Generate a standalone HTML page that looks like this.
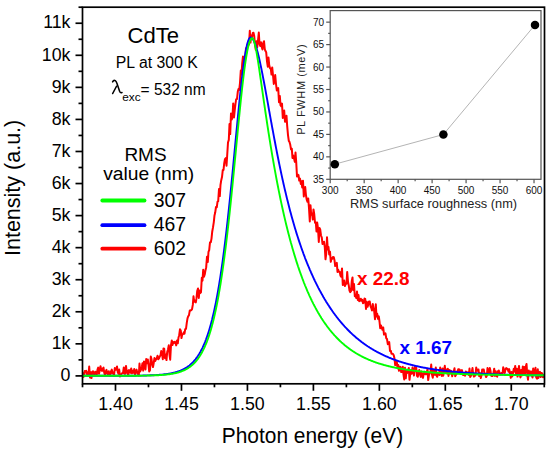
<!DOCTYPE html>
<html><head><meta charset="utf-8">
<style>
html,body{margin:0;padding:0;background:#fff;}
svg{display:block;}
text{font-family:"Liberation Sans", sans-serif;}
</style></head>
<body>
<svg width="550" height="453" viewBox="0 0 550 453">
<rect x="0" y="0" width="550" height="453" fill="#fff"/>
<defs><clipPath id="pc"><rect x="82.5" y="7.2" width="462.0" height="376.6"/></clipPath></defs>
<g clip-path="url(#pc)" fill="none" stroke-linejoin="round" stroke-linecap="round">
<path d="M82.5,372.6 L83.2,376.9 L84.0,376.4 L84.8,370.9 L85.5,371.5 L86.2,370.8 L87.0,374.3 L87.8,372.3 L88.5,374.9 L89.2,366.6 L90.0,377.5 L90.8,372.2 L91.5,378.1 L92.2,372.0 L93.0,371.2 L93.8,373.9 L94.5,375.1 L95.2,371.8 L96.0,371.9 L96.8,374.6 L97.5,369.6 L98.2,367.6 L99.0,373.7 L99.8,370.2 L100.5,366.2 L101.2,369.8 L102.0,370.9 L102.8,368.5 L103.5,367.6 L104.2,372.4 L105.0,375.2 L105.8,371.5 L106.5,369.9 L107.2,373.5 L108.0,374.5 L108.8,371.3 L109.5,374.0 L110.2,375.5 L111.0,371.5 L111.8,369.6 L112.5,373.3 L113.2,372.9 L114.0,375.6 L114.8,368.0 L115.5,369.9 L116.2,369.4 L117.0,366.5 L117.8,372.4 L118.5,373.7 L119.2,369.6 L120.0,376.4 L120.8,374.5 L121.5,373.9 L122.2,373.1 L123.0,373.1 L123.8,367.4 L124.5,373.7 L125.2,373.7 L126.0,365.9 L126.8,372.8 L127.5,370.8 L128.2,375.5 L129.0,370.1 L129.8,371.5 L130.5,372.6 L131.2,368.5 L132.0,373.3 L132.8,370.8 L133.5,372.7 L134.2,369.1 L135.0,374.3 L135.8,372.5 L136.5,369.6 L137.2,372.1 L138.0,374.0 L138.8,375.4 L139.5,363.6 L140.2,371.4 L141.0,369.5 L141.8,367.0 L142.5,363.3 L143.2,370.6 L144.0,361.4 L144.8,367.3 L145.5,369.5 L146.2,359.1 L147.0,363.3 L147.8,359.4 L148.5,364.6 L149.2,371.5 L150.0,370.2 L150.8,356.5 L151.5,359.1 L152.2,364.4 L153.0,367.1 L153.8,362.5 L154.5,357.9 L155.2,361.1 L156.0,359.4 L156.8,358.2 L157.5,355.8 L158.2,359.3 L159.0,358.4 L159.8,356.4 L160.5,355.5 L161.2,351.1 L162.0,353.5 L162.8,359.2 L163.5,348.4 L164.2,348.6 L165.0,358.2 L165.8,354.8 L166.5,360.1 L167.2,352.0 L168.0,349.5 L168.8,345.2 L169.5,354.8 L170.2,359.7 L171.0,345.2 L171.8,340.4 L172.5,344.9 L173.2,342.0 L174.0,343.0 L174.8,341.7 L175.5,342.8 L176.2,345.4 L177.0,340.6 L177.8,343.3 L178.5,337.5 L179.2,335.2 L180.0,329.2 L180.8,330.7 L181.5,338.1 L182.2,334.6 L183.0,334.2 L183.8,332.4 L184.5,333.7 L185.2,329.2 L186.0,328.9 L186.8,322.7 L187.5,318.4 L188.2,316.3 L189.0,315.2 L189.8,310.4 L190.5,310.6 L191.2,310.2 L192.0,309.4 L192.8,304.9 L193.5,296.3 L194.2,301.8 L195.0,300.9 L195.8,302.4 L196.5,298.2 L197.2,291.0 L198.0,288.5 L198.8,297.9 L199.5,290.5 L200.2,293.0 L201.0,292.2 L201.8,277.7 L202.5,280.7 L203.2,269.7 L204.0,276.8 L204.8,274.2 L205.5,270.2 L206.2,267.2 L207.0,256.8 L207.8,261.9 L208.5,251.8 L209.2,250.1 L210.0,242.3 L210.8,242.3 L211.5,238.6 L212.2,231.8 L213.0,227.4 L213.8,222.1 L214.5,215.4 L215.2,212.6 L216.0,207.0 L216.8,207.2 L217.5,201.8 L218.2,201.2 L219.0,189.1 L219.8,196.1 L220.5,184.8 L221.2,180.4 L222.0,177.1 L222.8,169.9 L223.5,170.1 L224.2,163.4 L225.0,159.0 L225.8,158.0 L226.5,165.7 L227.2,155.3 L228.0,142.5 L228.8,139.9 L229.5,124.1 L230.2,134.1 L231.0,113.4 L231.8,119.4 L232.5,116.4 L233.2,103.4 L234.0,117.4 L234.8,109.6 L235.5,103.7 L236.2,99.2 L237.0,99.1 L237.8,91.6 L238.5,88.9 L239.2,90.0 L240.0,82.8 L240.8,70.6 L241.5,74.6 L242.2,63.3 L243.0,56.4 L243.8,58.5 L244.5,64.7 L245.2,58.3 L246.0,48.2 L246.8,52.4 L247.5,44.6 L248.2,44.8 L249.0,44.5 L249.8,30.7 L250.5,42.6 L251.2,35.4 L252.0,36.9 L252.8,32.9 L253.5,32.7 L254.2,35.9 L255.0,45.2 L255.8,49.8 L256.5,41.3 L257.2,47.4 L258.0,40.6 L258.8,32.5 L259.5,43.7 L260.2,46.0 L261.0,42.3 L261.8,47.1 L262.5,49.5 L263.2,43.2 L264.0,41.2 L264.8,49.3 L265.5,51.1 L266.2,52.3 L267.0,61.4 L267.8,66.7 L268.5,57.5 L269.2,65.1 L270.0,68.2 L270.8,68.9 L271.5,74.6 L272.2,67.4 L273.0,75.2 L273.8,83.9 L274.5,79.9 L275.2,75.1 L276.0,84.0 L276.8,90.4 L277.5,89.3 L278.2,88.1 L279.0,102.3 L279.8,95.9 L280.5,105.2 L281.2,106.3 L282.0,103.6 L282.8,118.0 L283.5,115.9 L284.2,110.6 L285.0,121.8 L285.8,119.5 L286.5,115.8 L287.2,126.1 L288.0,135.1 L288.8,140.9 L289.5,141.9 L290.2,144.4 L291.0,149.3 L291.8,148.7 L292.5,158.0 L293.2,155.4 L294.0,158.4 L294.8,161.9 L295.5,152.5 L296.2,161.9 L297.0,176.5 L297.8,174.7 L298.5,175.1 L299.2,180.5 L300.0,178.6 L300.8,183.9 L301.5,181.2 L302.2,187.4 L303.0,180.7 L303.8,196.4 L304.5,189.8 L305.2,187.0 L306.0,195.5 L306.8,200.0 L307.5,201.8 L308.2,198.4 L309.0,208.1 L309.8,221.4 L310.5,205.3 L311.2,214.7 L312.0,213.4 L312.8,219.5 L313.5,209.4 L314.2,213.8 L315.0,222.7 L315.8,222.2 L316.5,231.5 L317.2,222.6 L318.0,228.4 L318.8,241.9 L319.5,228.0 L320.2,229.5 L321.0,235.5 L321.8,237.7 L322.5,244.0 L323.2,243.4 L324.0,241.7 L324.8,247.4 L325.5,259.3 L326.2,254.1 L327.0,237.2 L327.8,249.4 L328.5,247.0 L329.2,254.5 L330.0,251.8 L330.8,261.8 L331.5,258.2 L332.2,258.9 L333.0,256.9 L333.8,257.1 L334.5,260.2 L335.2,266.1 L336.0,264.7 L336.8,262.9 L337.5,272.0 L338.2,269.8 L339.0,271.8 L339.8,272.0 L340.5,275.7 L341.2,276.8 L342.0,268.4 L342.8,285.0 L343.5,283.4 L344.2,280.4 L345.0,286.0 L345.8,283.7 L346.5,283.7 L347.2,271.9 L348.0,281.8 L348.8,285.6 L349.5,290.6 L350.2,292.2 L351.0,291.1 L351.8,280.9 L352.5,277.4 L353.2,290.1 L354.0,284.0 L354.8,296.3 L355.5,294.9 L356.2,298.1 L357.0,291.5 L357.8,300.0 L358.5,295.1 L359.2,301.2 L360.0,300.8 L360.8,298.7 L361.5,300.7 L362.2,299.7 L363.0,303.2 L363.8,302.6 L364.5,298.6 L365.2,298.9 L366.0,308.9 L366.8,301.8 L367.5,306.8 L368.2,304.9 L369.0,301.6 L369.8,301.6 L370.5,306.2 L371.2,307.8 L372.0,310.5 L372.8,304.1 L373.5,308.1 L374.2,311.3 L375.0,319.2 L375.8,304.2 L376.5,316.5 L377.2,313.7 L378.0,318.8 L378.8,316.4 L379.5,321.5 L380.2,328.2 L381.0,325.5 L381.8,327.9 L382.5,329.8 L383.2,327.4 L384.0,334.6 L384.8,333.8 L385.5,333.4 L386.2,338.2 L387.0,339.0 L387.8,344.2 L388.5,342.5 L389.2,342.0 L390.0,350.9 L390.8,350.8 L391.5,353.8 L392.2,353.8 L393.0,353.9 L393.8,355.5 L394.5,358.5 L395.2,365.1 L396.0,364.6 L396.8,361.3 L397.5,368.2 L398.2,364.9 L399.0,370.8 L399.8,366.8 L400.5,367.0 L401.2,372.0 L402.0,371.7 L402.8,366.8 L403.5,374.7 L404.2,379.4 L405.0,367.8 L405.8,378.3 L406.5,370.3 L407.2,373.0 L408.0,371.9 L408.8,367.9 L409.5,379.8 L410.2,374.1 L411.0,370.1 L411.8,373.7 L412.5,367.6 L413.2,370.9 L414.0,375.5 L414.8,367.0 L415.5,371.1 L416.2,367.5 L417.0,375.9 L417.8,376.8 L418.5,373.5 L419.2,370.1 L420.0,373.9 L420.8,376.9 L421.5,371.5 L422.2,376.0 L423.0,377.9 L423.8,373.4 L424.5,371.9 L425.2,374.3 L426.0,374.3 L426.8,372.4 L427.5,369.1 L428.2,380.1 L429.0,374.8 L429.8,373.0 L430.5,371.9 L431.2,364.5 L432.0,374.8 L432.8,377.7 L433.5,370.2 L434.2,374.7 L435.0,374.8 L435.8,367.5 L436.5,375.5 L437.2,376.8 L438.0,373.2 L438.8,372.3 L439.5,375.0 L440.2,367.6 L441.0,372.6 L441.8,375.9 L442.5,368.5 L443.2,375.7 L444.0,371.2 L444.8,365.8 L445.5,372.2 L446.2,369.4 L447.0,373.5 L447.8,368.7 L448.5,375.9 L449.2,370.1 L450.0,373.6 L450.8,370.6 L451.5,371.5 L452.2,376.3 L453.0,373.2 L453.8,371.2 L454.5,368.3 L455.2,376.2 L456.0,374.8 L456.8,371.4 L457.5,373.3 L458.2,369.2 L459.0,369.2 L459.8,369.8 L460.5,373.6 L461.2,373.4 L462.0,370.1 L462.8,374.8 L463.5,375.0 L464.2,373.0 L465.0,375.8 L465.8,371.6 L466.5,372.1 L467.2,374.0 L468.0,372.4 L468.8,375.0 L469.5,368.5 L470.2,377.0 L471.0,375.7 L471.8,372.0 L472.5,368.1 L473.2,374.4 L474.0,376.6 L474.8,375.9 L475.5,375.1 L476.2,367.5 L477.0,370.0 L477.8,371.0 L478.5,369.5 L479.2,376.1 L480.0,373.1 L480.8,378.1 L481.5,375.3 L482.2,369.4 L483.0,369.6 L483.8,369.6 L484.5,374.1 L485.2,373.6 L486.0,377.1 L486.8,375.9 L487.5,368.1 L488.2,370.7 L489.0,372.9 L489.8,368.1 L490.5,370.8 L491.2,375.7 L492.0,376.0 L492.8,375.9 L493.5,372.6 L494.2,368.7 L495.0,375.9 L495.8,371.3 L496.5,375.8 L497.2,376.7 L498.0,371.3 L498.8,370.5 L499.5,372.4 L500.2,374.4 L501.0,374.0 L501.8,372.9 L502.5,374.2 L503.2,367.3 L504.0,369.7 L504.8,372.9 L505.5,369.5 L506.2,368.1 L507.0,368.6 L507.8,369.5 L508.5,371.8 L509.2,369.1 L510.0,373.2 L510.8,377.8 L511.5,371.9 L512.2,376.5 L513.0,373.3 L513.8,368.8 L514.5,371.6 L515.2,365.9 L516.0,374.9 L516.8,368.7 L517.5,376.6 L518.2,374.2 L519.0,365.9 L519.8,374.9 L520.5,377.4 L521.2,369.9 L522.0,375.5 L522.8,366.6 L523.5,373.2 L524.2,367.1 L525.0,373.9 L525.8,366.6 L526.5,363.9 L527.2,373.6 L528.0,379.7 L528.8,370.5 L529.5,375.0 L530.2,372.7 L531.0,371.3 L531.8,374.3 L532.5,377.6 L533.2,368.4 L534.0,374.1 L534.8,373.4 L535.5,367.8 L536.2,377.5 L537.0,378.6 L537.8,369.3 L538.5,377.9 L539.2,372.5 L540.0,371.8 L540.8,377.1 L541.5,373.0 L542.2,373.3 L543.0,377.2 L543.8,376.4" stroke="#ff0000" stroke-width="2.0"/>
<path d="M82.5,375.8 L83.0,375.8 L83.5,375.8 L84.0,375.8 L84.5,375.8 L85.0,375.8 L85.5,375.8 L86.0,375.8 L86.5,375.8 L87.0,375.8 L87.5,375.8 L88.0,375.8 L88.5,375.8 L89.0,375.8 L89.5,375.8 L90.0,375.8 L90.5,375.8 L91.0,375.8 L91.5,375.8 L92.0,375.8 L92.5,375.8 L93.0,375.8 L93.5,375.8 L94.0,375.8 L94.5,375.8 L95.0,375.8 L95.5,375.8 L96.0,375.8 L96.5,375.8 L97.0,375.8 L97.5,375.8 L98.0,375.8 L98.5,375.8 L99.0,375.8 L99.5,375.8 L100.0,375.8 L100.5,375.8 L101.0,375.8 L101.5,375.8 L102.0,375.8 L102.5,375.8 L103.0,375.8 L103.5,375.8 L104.0,375.8 L104.5,375.8 L105.0,375.8 L105.5,375.8 L106.0,375.8 L106.5,375.8 L107.0,375.8 L107.5,375.8 L108.0,375.8 L108.5,375.8 L109.0,375.8 L109.5,375.8 L110.0,375.8 L110.5,375.8 L111.0,375.8 L111.5,375.8 L112.0,375.8 L112.5,375.8 L113.0,375.8 L113.5,375.8 L114.0,375.8 L114.5,375.8 L115.0,375.8 L115.5,375.8 L116.0,375.8 L116.5,375.8 L117.0,375.8 L117.5,375.8 L118.0,375.8 L118.5,375.8 L119.0,375.8 L119.5,375.8 L120.0,375.8 L120.5,375.8 L121.0,375.8 L121.5,375.8 L122.0,375.8 L122.5,375.8 L123.0,375.7 L123.5,375.7 L124.0,375.7 L124.5,375.7 L125.0,375.7 L125.5,375.7 L126.0,375.7 L126.5,375.7 L127.0,375.7 L127.5,375.7 L128.0,375.7 L128.5,375.7 L129.0,375.7 L129.5,375.7 L130.0,375.7 L130.5,375.7 L131.0,375.7 L131.5,375.7 L132.0,375.7 L132.5,375.7 L133.0,375.7 L133.5,375.7 L134.0,375.7 L134.5,375.7 L135.0,375.7 L135.5,375.7 L136.0,375.7 L136.5,375.6 L137.0,375.6 L137.5,375.6 L138.0,375.6 L138.5,375.6 L139.0,375.6 L139.5,375.6 L140.0,375.6 L140.5,375.6 L141.0,375.6 L141.5,375.6 L142.0,375.6 L142.5,375.6 L143.0,375.5 L143.5,375.5 L144.0,375.5 L144.5,375.5 L145.0,375.5 L145.5,375.5 L146.0,375.5 L146.5,375.5 L147.0,375.4 L147.5,375.4 L148.0,375.4 L148.5,375.4 L149.0,375.4 L149.5,375.4 L150.0,375.3 L150.5,375.3 L151.0,375.3 L151.5,375.3 L152.0,375.3 L152.5,375.2 L153.0,375.2 L153.5,375.2 L154.0,375.2 L154.5,375.1 L155.0,375.1 L155.5,375.1 L156.0,375.1 L156.5,375.0 L157.0,375.0 L157.5,375.0 L158.0,374.9 L158.5,374.9 L159.0,374.9 L159.5,374.8 L160.0,374.8 L160.5,374.7 L161.0,374.7 L161.5,374.7 L162.0,374.6 L162.5,374.6 L163.0,374.5 L163.5,374.5 L164.0,374.4 L164.5,374.3 L165.0,374.3 L165.5,374.2 L166.0,374.2 L166.5,374.1 L167.0,374.0 L167.5,373.9 L168.0,373.9 L168.5,373.8 L169.0,373.7 L169.5,373.6 L170.0,373.5 L170.5,373.4 L171.0,373.4 L171.5,373.3 L172.0,373.2 L172.5,373.0 L173.0,372.9 L173.5,372.8 L174.0,372.7 L174.5,372.6 L175.0,372.4 L175.5,372.3 L176.0,372.2 L176.5,372.0 L177.0,371.9 L177.5,371.7 L178.0,371.5 L178.5,371.4 L179.0,371.2 L179.5,371.0 L180.0,370.8 L180.5,370.6 L181.0,370.4 L181.5,370.2 L182.0,370.0 L182.5,369.7 L183.0,369.5 L183.5,369.2 L184.0,369.0 L184.5,368.7 L185.0,368.4 L185.5,368.1 L186.0,367.8 L186.5,367.5 L187.0,367.2 L187.5,366.9 L188.0,366.5 L188.5,366.1 L189.0,365.8 L189.5,365.4 L190.0,364.9 L190.5,364.5 L191.0,364.1 L191.5,363.6 L192.0,363.1 L192.5,362.6 L193.0,362.1 L193.5,361.6 L194.0,361.0 L194.5,360.5 L195.0,359.9 L195.5,359.3 L196.0,358.6 L196.5,357.9 L197.0,357.3 L197.5,356.5 L198.0,355.8 L198.5,355.0 L199.0,354.2 L199.5,353.4 L200.0,352.5 L200.5,351.7 L201.0,350.7 L201.5,349.8 L202.0,348.8 L202.5,347.8 L203.0,346.7 L203.5,345.6 L204.0,344.5 L204.5,343.3 L205.0,342.1 L205.5,340.8 L206.0,339.5 L206.5,338.1 L207.0,336.7 L207.5,335.3 L208.0,333.8 L208.5,332.3 L209.0,330.7 L209.5,329.0 L210.0,327.3 L210.5,325.5 L211.0,323.7 L211.5,321.8 L212.0,319.9 L212.5,317.8 L213.0,315.8 L213.5,313.6 L214.0,311.4 L214.5,309.1 L215.0,306.8 L215.5,304.4 L216.0,301.9 L216.5,299.3 L217.0,296.6 L217.5,293.9 L218.0,291.1 L218.5,288.2 L219.0,285.3 L219.5,282.2 L220.0,279.1 L220.5,275.8 L221.0,272.5 L221.5,269.1 L222.0,265.6 L222.5,262.1 L223.0,258.4 L223.5,254.7 L224.0,250.8 L224.5,246.9 L225.0,242.9 L225.5,238.8 L226.0,234.6 L226.5,230.3 L227.0,225.9 L227.5,221.5 L228.0,216.9 L228.5,212.3 L229.0,207.7 L229.5,202.9 L230.0,198.1 L230.5,193.2 L231.0,188.2 L231.5,183.2 L232.0,178.1 L232.5,173.0 L233.0,167.8 L233.5,162.7 L234.0,157.4 L234.5,152.2 L235.0,146.9 L235.5,141.7 L236.0,136.4 L236.5,131.2 L237.0,126.0 L237.5,120.8 L238.0,115.6 L238.5,110.6 L239.0,105.6 L239.5,100.6 L240.0,95.8 L240.5,91.1 L241.0,86.5 L241.5,82.0 L242.0,77.6 L242.5,73.5 L243.0,69.5 L243.5,65.6 L244.0,62.0 L244.5,58.6 L245.0,55.4 L245.5,52.4 L246.0,49.7 L246.5,47.2 L247.0,45.0 L247.5,43.1 L248.0,41.4 L248.5,40.1 L249.0,39.0 L249.5,38.2 L250.0,37.7 L250.5,37.5 L251.0,37.6 L251.5,37.8 L252.0,38.1 L252.5,38.7 L253.0,39.4 L253.5,40.2 L254.0,41.2 L254.5,42.3 L255.0,43.6 L255.5,45.0 L256.0,46.5 L256.5,48.1 L257.0,49.9 L257.5,51.7 L258.0,53.6 L258.5,55.7 L259.0,57.8 L259.5,60.0 L260.0,62.3 L260.5,64.6 L261.0,67.0 L261.5,69.4 L262.0,71.9 L262.5,74.5 L263.0,77.1 L263.5,79.7 L264.0,82.3 L264.5,85.0 L265.0,87.7 L265.5,90.4 L266.0,93.2 L266.5,95.9 L267.0,98.7 L267.5,101.4 L268.0,104.2 L268.5,107.0 L269.0,109.8 L269.5,112.5 L270.0,115.3 L270.5,118.1 L271.0,120.8 L271.5,123.5 L272.0,126.3 L272.5,129.0 L273.0,131.7 L273.5,134.4 L274.0,137.1 L274.5,139.7 L275.0,142.3 L275.5,145.0 L276.0,147.6 L276.5,150.1 L277.0,152.7 L277.5,155.2 L278.0,157.7 L278.5,160.2 L279.0,162.7 L279.5,165.1 L280.0,167.5 L280.5,169.9 L281.0,172.2 L281.5,174.6 L282.0,176.9 L282.5,179.2 L283.0,181.4 L283.5,183.7 L284.0,185.9 L284.5,188.1 L285.0,190.2 L285.5,192.3 L286.0,194.4 L286.5,196.5 L287.0,198.6 L287.5,200.6 L288.0,202.6 L288.5,204.6 L289.0,206.5 L289.5,208.5 L290.0,210.4 L290.5,212.3 L291.0,214.1 L291.5,216.0 L292.0,217.8 L292.5,219.6 L293.0,221.3 L293.5,223.1 L294.0,224.8 L294.5,226.5 L295.0,228.2 L295.5,229.8 L296.0,231.5 L296.5,233.1 L297.0,234.7 L297.5,236.3 L298.0,237.8 L298.5,239.4 L299.0,240.9 L299.5,242.4 L300.0,243.9 L300.5,245.3 L301.0,246.8 L301.5,248.2 L302.0,249.6 L302.5,251.0 L303.0,252.4 L303.5,253.8 L304.0,255.1 L304.5,256.4 L305.0,257.8 L305.5,259.1 L306.0,260.3 L306.5,261.6 L307.0,262.9 L307.5,264.1 L308.0,265.3 L308.5,266.5 L309.0,267.7 L309.5,268.9 L310.0,270.1 L310.5,271.2 L311.0,272.4 L311.5,273.5 L312.0,274.6 L312.5,275.7 L313.0,276.8 L313.5,277.9 L314.0,279.0 L314.5,280.0 L315.0,281.1 L315.5,282.1 L316.0,283.1 L316.5,284.1 L317.0,285.1 L317.5,286.1 L318.0,287.1 L318.5,288.1 L319.0,289.0 L319.5,290.0 L320.0,290.9 L320.5,291.8 L321.0,292.7 L321.5,293.6 L322.0,294.5 L322.5,295.4 L323.0,296.3 L323.5,297.2 L324.0,298.0 L324.5,298.9 L325.0,299.7 L325.5,300.5 L326.0,301.4 L326.5,302.2 L327.0,303.0 L327.5,303.8 L328.0,304.6 L328.5,305.3 L329.0,306.1 L329.5,306.9 L330.0,307.6 L330.5,308.4 L331.0,309.1 L331.5,309.8 L332.0,310.5 L332.5,311.3 L333.0,312.0 L333.5,312.7 L334.0,313.4 L334.5,314.0 L335.0,314.7 L335.5,315.4 L336.0,316.0 L336.5,316.7 L337.0,317.4 L337.5,318.0 L338.0,318.6 L338.5,319.3 L339.0,319.9 L339.5,320.5 L340.0,321.1 L340.5,321.7 L341.0,322.3 L341.5,322.9 L342.0,323.5 L342.5,324.0 L343.0,324.6 L343.5,325.2 L344.0,325.7 L344.5,326.3 L345.0,326.8 L345.5,327.4 L346.0,327.9 L346.5,328.4 L347.0,329.0 L347.5,329.5 L348.0,330.0 L348.5,330.5 L349.0,331.0 L349.5,331.5 L350.0,332.0 L350.5,332.5 L351.0,332.9 L351.5,333.4 L352.0,333.9 L352.5,334.3 L353.0,334.8 L353.5,335.3 L354.0,335.7 L354.5,336.1 L355.0,336.6 L355.5,337.0 L356.0,337.5 L356.5,337.9 L357.0,338.3 L357.5,338.7 L358.0,339.1 L358.5,339.5 L359.0,339.9 L359.5,340.3 L360.0,340.7 L360.5,341.1 L361.0,341.5 L361.5,341.9 L362.0,342.3 L362.5,342.6 L363.0,343.0 L363.5,343.4 L364.0,343.7 L364.5,344.1 L365.0,344.4 L365.5,344.8 L366.0,345.1 L366.5,345.5 L367.0,345.8 L367.5,346.2 L368.0,346.5 L368.5,346.8 L369.0,347.1 L369.5,347.5 L370.0,347.8 L370.5,348.1 L371.0,348.4 L371.5,348.7 L372.0,349.0 L372.5,349.3 L373.0,349.6 L373.5,349.9 L374.0,350.2 L374.5,350.5 L375.0,350.8 L375.5,351.0 L376.0,351.3 L376.5,351.6 L377.0,351.9 L377.5,352.1 L378.0,352.4 L378.5,352.7 L379.0,352.9 L379.5,353.2 L380.0,353.4 L380.5,353.7 L381.0,353.9 L381.5,354.2 L382.0,354.4 L382.5,354.7 L383.0,354.9 L383.5,355.1 L384.0,355.4 L384.5,355.6 L385.0,355.8 L385.5,356.1 L386.0,356.3 L386.5,356.5 L387.0,356.7 L387.5,356.9 L388.0,357.1 L388.5,357.4 L389.0,357.6 L389.5,357.8 L390.0,358.0 L390.5,358.2 L391.0,358.4 L391.5,358.6 L392.0,358.8 L392.5,359.0 L393.0,359.2 L393.5,359.3 L394.0,359.5 L394.5,359.7 L395.0,359.9 L395.5,360.1 L396.0,360.3 L396.5,360.4 L397.0,360.6 L397.5,360.8 L398.0,360.9 L398.5,361.1 L399.0,361.3 L399.5,361.5 L400.0,361.6 L400.5,361.8 L401.0,361.9 L401.5,362.1 L402.0,362.3 L402.5,362.4 L403.0,362.6 L403.5,362.7 L404.0,362.9 L404.5,363.0 L405.0,363.2 L405.5,363.3 L406.0,363.4 L406.5,363.6 L407.0,363.7 L407.5,363.9 L408.0,364.0 L408.5,364.1 L409.0,364.3 L409.5,364.4 L410.0,364.5 L410.5,364.7 L411.0,364.8 L411.5,364.9 L412.0,365.0 L412.5,365.2 L413.0,365.3 L413.5,365.4 L414.0,365.5 L414.5,365.6 L415.0,365.8 L415.5,365.9 L416.0,366.0 L416.5,366.1 L417.0,366.2 L417.5,366.3 L418.0,366.4 L418.5,366.5 L419.0,366.6 L419.5,366.8 L420.0,366.9 L420.5,367.0 L421.0,367.1 L421.5,367.2 L422.0,367.3 L422.5,367.4 L423.0,367.5 L423.5,367.6 L424.0,367.7 L424.5,367.7 L425.0,367.8 L425.5,367.9 L426.0,368.0 L426.5,368.1 L427.0,368.2 L427.5,368.3 L428.0,368.4 L428.5,368.5 L429.0,368.6 L429.5,368.6 L430.0,368.7 L430.5,368.8 L431.0,368.9 L431.5,369.0 L432.0,369.0 L432.5,369.1 L433.0,369.2 L433.5,369.3 L434.0,369.4 L434.5,369.4 L435.0,369.5 L435.5,369.6 L436.0,369.7 L436.5,369.7 L437.0,369.8 L437.5,369.9 L438.0,369.9 L438.5,370.0 L439.0,370.1 L439.5,370.1 L440.0,370.2 L440.5,370.3 L441.0,370.3 L441.5,370.4 L442.0,370.5 L442.5,370.5 L443.0,370.6 L443.5,370.7 L444.0,370.7 L444.5,370.8 L445.0,370.8 L445.5,370.9 L446.0,370.9 L446.5,371.0 L447.0,371.1 L447.5,371.1 L448.0,371.2 L448.5,371.2 L449.0,371.3 L449.5,371.3 L450.0,371.4 L450.5,371.4 L451.0,371.5 L451.5,371.5 L452.0,371.6 L452.5,371.6 L453.0,371.7 L453.5,371.7 L454.0,371.8 L454.5,371.8 L455.0,371.9 L455.5,371.9 L456.0,372.0 L456.5,372.0 L457.0,372.1 L457.5,372.1 L458.0,372.2 L458.5,372.2 L459.0,372.2 L459.5,372.3 L460.0,372.3 L460.5,372.4 L461.0,372.4 L461.5,372.5 L462.0,372.5 L462.5,372.5 L463.0,372.6 L463.5,372.6 L464.0,372.7 L464.5,372.7 L465.0,372.7 L465.5,372.8 L466.0,372.8 L466.5,372.8 L467.0,372.9 L467.5,372.9 L468.0,372.9 L468.5,373.0 L469.0,373.0 L469.5,373.0 L470.0,373.1 L470.5,373.1 L471.0,373.1 L471.5,373.2 L472.0,373.2 L472.5,373.2 L473.0,373.3 L473.5,373.3 L474.0,373.3 L474.5,373.4 L475.0,373.4 L475.5,373.4 L476.0,373.5 L476.5,373.5 L477.0,373.5 L477.5,373.5 L478.0,373.6 L478.5,373.6 L479.0,373.6 L479.5,373.6 L480.0,373.7 L480.5,373.7 L481.0,373.7 L481.5,373.8 L482.0,373.8 L482.5,373.8 L483.0,373.8 L483.5,373.9 L484.0,373.9 L484.5,373.9 L485.0,373.9 L485.5,373.9 L486.0,374.0 L486.5,374.0 L487.0,374.0 L487.5,374.0 L488.0,374.1 L488.5,374.1 L489.0,374.1 L489.5,374.1 L490.0,374.1 L490.5,374.2 L491.0,374.2 L491.5,374.2 L492.0,374.2 L492.5,374.2 L493.0,374.3 L493.5,374.3 L494.0,374.3 L494.5,374.3 L495.0,374.3 L495.5,374.4 L496.0,374.4 L496.5,374.4 L497.0,374.4 L497.5,374.4 L498.0,374.4 L498.5,374.5 L499.0,374.5 L499.5,374.5 L500.0,374.5 L500.5,374.5 L501.0,374.5 L501.5,374.6 L502.0,374.6 L502.5,374.6 L503.0,374.6 L503.5,374.6 L504.0,374.6 L504.5,374.7 L505.0,374.7 L505.5,374.7 L506.0,374.7 L506.5,374.7 L507.0,374.7 L507.5,374.7 L508.0,374.8 L508.5,374.8 L509.0,374.8 L509.5,374.8 L510.0,374.8 L510.5,374.8 L511.0,374.8 L511.5,374.8 L512.0,374.9 L512.5,374.9 L513.0,374.9 L513.5,374.9 L514.0,374.9 L514.5,374.9 L515.0,374.9 L515.5,374.9 L516.0,375.0 L516.5,375.0 L517.0,375.0 L517.5,375.0 L518.0,375.0 L518.5,375.0 L519.0,375.0 L519.5,375.0 L520.0,375.0 L520.5,375.0 L521.0,375.1 L521.5,375.1 L522.0,375.1 L522.5,375.1 L523.0,375.1 L523.5,375.1 L524.0,375.1 L524.5,375.1 L525.0,375.1 L525.5,375.1 L526.0,375.2 L526.5,375.2 L527.0,375.2 L527.5,375.2 L528.0,375.2 L528.5,375.2 L529.0,375.2 L529.5,375.2 L530.0,375.2 L530.5,375.2 L531.0,375.2 L531.5,375.2 L532.0,375.3 L532.5,375.3 L533.0,375.3 L533.5,375.3 L534.0,375.3 L534.5,375.3 L535.0,375.3 L535.5,375.3 L536.0,375.3 L536.5,375.3 L537.0,375.3 L537.5,375.3 L538.0,375.3 L538.5,375.3 L539.0,375.3 L539.5,375.4 L540.0,375.4 L540.5,375.4 L541.0,375.4 L541.5,375.4 L542.0,375.4 L542.5,375.4 L543.0,375.4 L543.5,375.4 L544.0,375.4" stroke="#0000ff" stroke-width="1.9"/>
<path d="M82.5,375.8 L83.0,375.8 L83.5,375.8 L84.0,375.8 L84.5,375.8 L85.0,375.8 L85.5,375.8 L86.0,375.8 L86.5,375.8 L87.0,375.8 L87.5,375.8 L88.0,375.8 L88.5,375.8 L89.0,375.8 L89.5,375.8 L90.0,375.8 L90.5,375.8 L91.0,375.8 L91.5,375.8 L92.0,375.8 L92.5,375.8 L93.0,375.8 L93.5,375.8 L94.0,375.8 L94.5,375.8 L95.0,375.8 L95.5,375.8 L96.0,375.8 L96.5,375.8 L97.0,375.8 L97.5,375.8 L98.0,375.8 L98.5,375.8 L99.0,375.8 L99.5,375.8 L100.0,375.8 L100.5,375.8 L101.0,375.8 L101.5,375.8 L102.0,375.8 L102.5,375.8 L103.0,375.8 L103.5,375.8 L104.0,375.8 L104.5,375.8 L105.0,375.8 L105.5,375.8 L106.0,375.8 L106.5,375.8 L107.0,375.8 L107.5,375.8 L108.0,375.8 L108.5,375.8 L109.0,375.8 L109.5,375.8 L110.0,375.8 L110.5,375.8 L111.0,375.8 L111.5,375.8 L112.0,375.8 L112.5,375.8 L113.0,375.8 L113.5,375.8 L114.0,375.8 L114.5,375.8 L115.0,375.8 L115.5,375.8 L116.0,375.8 L116.5,375.8 L117.0,375.8 L117.5,375.8 L118.0,375.8 L118.5,375.8 L119.0,375.8 L119.5,375.8 L120.0,375.8 L120.5,375.8 L121.0,375.8 L121.5,375.8 L122.0,375.8 L122.5,375.8 L123.0,375.8 L123.5,375.8 L124.0,375.8 L124.5,375.8 L125.0,375.8 L125.5,375.8 L126.0,375.8 L126.5,375.8 L127.0,375.8 L127.5,375.8 L128.0,375.8 L128.5,375.8 L129.0,375.7 L129.5,375.7 L130.0,375.7 L130.5,375.7 L131.0,375.7 L131.5,375.7 L132.0,375.7 L132.5,375.7 L133.0,375.7 L133.5,375.7 L134.0,375.7 L134.5,375.7 L135.0,375.7 L135.5,375.7 L136.0,375.7 L136.5,375.7 L137.0,375.7 L137.5,375.7 L138.0,375.7 L138.5,375.7 L139.0,375.7 L139.5,375.7 L140.0,375.7 L140.5,375.7 L141.0,375.7 L141.5,375.6 L142.0,375.6 L142.5,375.6 L143.0,375.6 L143.5,375.6 L144.0,375.6 L144.5,375.6 L145.0,375.6 L145.5,375.6 L146.0,375.6 L146.5,375.6 L147.0,375.6 L147.5,375.5 L148.0,375.5 L148.5,375.5 L149.0,375.5 L149.5,375.5 L150.0,375.5 L150.5,375.5 L151.0,375.5 L151.5,375.4 L152.0,375.4 L152.5,375.4 L153.0,375.4 L153.5,375.4 L154.0,375.4 L154.5,375.3 L155.0,375.3 L155.5,375.3 L156.0,375.3 L156.5,375.3 L157.0,375.2 L157.5,375.2 L158.0,375.2 L158.5,375.2 L159.0,375.1 L159.5,375.1 L160.0,375.1 L160.5,375.0 L161.0,375.0 L161.5,375.0 L162.0,374.9 L162.5,374.9 L163.0,374.9 L163.5,374.8 L164.0,374.8 L164.5,374.7 L165.0,374.7 L165.5,374.6 L166.0,374.6 L166.5,374.5 L167.0,374.5 L167.5,374.4 L168.0,374.4 L168.5,374.3 L169.0,374.2 L169.5,374.2 L170.0,374.1 L170.5,374.0 L171.0,373.9 L171.5,373.9 L172.0,373.8 L172.5,373.7 L173.0,373.6 L173.5,373.5 L174.0,373.4 L174.5,373.3 L175.0,373.2 L175.5,373.1 L176.0,373.0 L176.5,372.8 L177.0,372.7 L177.5,372.6 L178.0,372.5 L178.5,372.3 L179.0,372.2 L179.5,372.0 L180.0,371.8 L180.5,371.7 L181.0,371.5 L181.5,371.3 L182.0,371.1 L182.5,370.9 L183.0,370.7 L183.5,370.5 L184.0,370.3 L184.5,370.1 L185.0,369.8 L185.5,369.6 L186.0,369.3 L186.5,369.0 L187.0,368.8 L187.5,368.5 L188.0,368.2 L188.5,367.8 L189.0,367.5 L189.5,367.2 L190.0,366.8 L190.5,366.4 L191.0,366.0 L191.5,365.6 L192.0,365.2 L192.5,364.8 L193.0,364.3 L193.5,363.9 L194.0,363.4 L194.5,362.9 L195.0,362.3 L195.5,361.8 L196.0,361.2 L196.5,360.6 L197.0,360.0 L197.5,359.4 L198.0,358.7 L198.5,358.0 L199.0,357.3 L199.5,356.5 L200.0,355.8 L200.5,354.9 L201.0,354.1 L201.5,353.2 L202.0,352.3 L202.5,351.4 L203.0,350.4 L203.5,349.4 L204.0,348.4 L204.5,347.3 L205.0,346.2 L205.5,345.0 L206.0,343.8 L206.5,342.6 L207.0,341.3 L207.5,339.9 L208.0,338.6 L208.5,337.1 L209.0,335.6 L209.5,334.1 L210.0,332.5 L210.5,330.9 L211.0,329.2 L211.5,327.4 L212.0,325.6 L212.5,323.7 L213.0,321.7 L213.5,319.7 L214.0,317.7 L214.5,315.5 L215.0,313.3 L215.5,311.0 L216.0,308.7 L216.5,306.2 L217.0,303.7 L217.5,301.2 L218.0,298.5 L218.5,295.8 L219.0,292.9 L219.5,290.0 L220.0,287.1 L220.5,284.0 L221.0,280.8 L221.5,277.6 L222.0,274.3 L222.5,270.9 L223.0,267.4 L223.5,263.8 L224.0,260.1 L224.5,256.4 L225.0,252.5 L225.5,248.6 L226.0,244.6 L226.5,240.4 L227.0,236.3 L227.5,232.0 L228.0,227.6 L228.5,223.2 L229.0,218.6 L229.5,214.1 L230.0,209.4 L230.5,204.6 L231.0,199.8 L231.5,195.0 L232.0,190.0 L232.5,185.1 L233.0,180.0 L233.5,174.9 L234.0,169.8 L234.5,164.7 L235.0,159.5 L235.5,154.3 L236.0,149.2 L236.5,144.0 L237.0,138.8 L237.5,133.6 L238.0,128.5 L238.5,123.3 L239.0,118.3 L239.5,113.3 L240.0,108.3 L240.5,103.5 L241.0,98.7 L241.5,94.0 L242.0,89.5 L242.5,85.0 L243.0,80.7 L243.5,76.5 L244.0,72.5 L244.5,68.7 L245.0,65.1 L245.5,61.6 L246.0,58.4 L246.5,55.3 L247.0,52.5 L247.5,49.9 L248.0,47.6 L248.5,45.5 L249.0,43.6 L249.5,42.0 L250.0,40.7 L250.5,39.7 L251.0,38.9 L251.5,38.4 L252.0,38.2 L252.5,38.3 L253.0,38.8 L253.5,39.7 L254.0,41.0 L254.5,42.7 L255.0,44.7 L255.5,46.9 L256.0,49.4 L256.5,52.1 L257.0,55.0 L257.5,58.0 L258.0,61.2 L258.5,64.4 L259.0,67.7 L259.5,71.1 L260.0,74.5 L260.5,78.0 L261.0,81.4 L261.5,84.9 L262.0,88.4 L262.5,91.9 L263.0,95.4 L263.5,98.8 L264.0,102.3 L264.5,105.7 L265.0,109.1 L265.5,112.5 L266.0,115.9 L266.5,119.2 L267.0,122.5 L267.5,125.8 L268.0,129.0 L268.5,132.3 L269.0,135.4 L269.5,138.6 L270.0,141.7 L270.5,144.8 L271.0,147.8 L271.5,150.8 L272.0,153.8 L272.5,156.8 L273.0,159.7 L273.5,162.5 L274.0,165.4 L274.5,168.2 L275.0,170.9 L275.5,173.7 L276.0,176.4 L276.5,179.0 L277.0,181.7 L277.5,184.3 L278.0,186.8 L278.5,189.4 L279.0,191.9 L279.5,194.3 L280.0,196.8 L280.5,199.2 L281.0,201.6 L281.5,203.9 L282.0,206.2 L282.5,208.5 L283.0,210.8 L283.5,213.0 L284.0,215.2 L284.5,217.4 L285.0,219.5 L285.5,221.6 L286.0,223.7 L286.5,225.7 L287.0,227.8 L287.5,229.8 L288.0,231.7 L288.5,233.7 L289.0,235.6 L289.5,237.5 L290.0,239.4 L290.5,241.2 L291.0,243.1 L291.5,244.8 L292.0,246.6 L292.5,248.4 L293.0,250.1 L293.5,251.8 L294.0,253.5 L294.5,255.1 L295.0,256.8 L295.5,258.4 L296.0,260.0 L296.5,261.6 L297.0,263.1 L297.5,264.6 L298.0,266.2 L298.5,267.6 L299.0,269.1 L299.5,270.6 L300.0,272.0 L300.5,273.4 L301.0,274.8 L301.5,276.2 L302.0,277.5 L302.5,278.9 L303.0,280.2 L303.5,281.5 L304.0,282.8 L304.5,284.0 L305.0,285.3 L305.5,286.5 L306.0,287.7 L306.5,288.9 L307.0,290.1 L307.5,291.3 L308.0,292.4 L308.5,293.5 L309.0,294.7 L309.5,295.8 L310.0,296.8 L310.5,297.9 L311.0,299.0 L311.5,300.0 L312.0,301.1 L312.5,302.1 L313.0,303.1 L313.5,304.1 L314.0,305.0 L314.5,306.0 L315.0,306.9 L315.5,307.9 L316.0,308.8 L316.5,309.7 L317.0,310.6 L317.5,311.5 L318.0,312.4 L318.5,313.2 L319.0,314.1 L319.5,314.9 L320.0,315.7 L320.5,316.6 L321.0,317.4 L321.5,318.2 L322.0,318.9 L322.5,319.7 L323.0,320.5 L323.5,321.2 L324.0,322.0 L324.5,322.7 L325.0,323.4 L325.5,324.1 L326.0,324.8 L326.5,325.5 L327.0,326.2 L327.5,326.9 L328.0,327.5 L328.5,328.2 L329.0,328.8 L329.5,329.5 L330.0,330.1 L330.5,330.7 L331.0,331.3 L331.5,331.9 L332.0,332.5 L332.5,333.1 L333.0,333.7 L333.5,334.2 L334.0,334.8 L334.5,335.4 L335.0,335.9 L335.5,336.4 L336.0,337.0 L336.5,337.5 L337.0,338.0 L337.5,338.5 L338.0,339.0 L338.5,339.5 L339.0,340.0 L339.5,340.5 L340.0,341.0 L340.5,341.4 L341.0,341.9 L341.5,342.4 L342.0,342.8 L342.5,343.2 L343.0,343.7 L343.5,344.1 L344.0,344.5 L344.5,345.0 L345.0,345.4 L345.5,345.8 L346.0,346.2 L346.5,346.6 L347.0,347.0 L347.5,347.4 L348.0,347.7 L348.5,348.1 L349.0,348.5 L349.5,348.9 L350.0,349.2 L350.5,349.6 L351.0,349.9 L351.5,350.3 L352.0,350.6 L352.5,350.9 L353.0,351.3 L353.5,351.6 L354.0,351.9 L354.5,352.2 L355.0,352.5 L355.5,352.9 L356.0,353.2 L356.5,353.5 L357.0,353.8 L357.5,354.1 L358.0,354.3 L358.5,354.6 L359.0,354.9 L359.5,355.2 L360.0,355.5 L360.5,355.7 L361.0,356.0 L361.5,356.3 L362.0,356.5 L362.5,356.8 L363.0,357.0 L363.5,357.3 L364.0,357.5 L364.5,357.8 L365.0,358.0 L365.5,358.2 L366.0,358.5 L366.5,358.7 L367.0,358.9 L367.5,359.1 L368.0,359.3 L368.5,359.6 L369.0,359.8 L369.5,360.0 L370.0,360.2 L370.5,360.4 L371.0,360.6 L371.5,360.8 L372.0,361.0 L372.5,361.2 L373.0,361.4 L373.5,361.6 L374.0,361.8 L374.5,361.9 L375.0,362.1 L375.5,362.3 L376.0,362.5 L376.5,362.6 L377.0,362.8 L377.5,363.0 L378.0,363.1 L378.5,363.3 L379.0,363.5 L379.5,363.6 L380.0,363.8 L380.5,363.9 L381.0,364.1 L381.5,364.2 L382.0,364.4 L382.5,364.5 L383.0,364.7 L383.5,364.8 L384.0,365.0 L384.5,365.1 L385.0,365.2 L385.5,365.4 L386.0,365.5 L386.5,365.6 L387.0,365.8 L387.5,365.9 L388.0,366.0 L388.5,366.2 L389.0,366.3 L389.5,366.4 L390.0,366.5 L390.5,366.6 L391.0,366.8 L391.5,366.9 L392.0,367.0 L392.5,367.1 L393.0,367.2 L393.5,367.3 L394.0,367.4 L394.5,367.5 L395.0,367.6 L395.5,367.7 L396.0,367.8 L396.5,367.9 L397.0,368.0 L397.5,368.1 L398.0,368.2 L398.5,368.3 L399.0,368.4 L399.5,368.5 L400.0,368.6 L400.5,368.7 L401.0,368.8 L401.5,368.9 L402.0,368.9 L402.5,369.0 L403.0,369.1 L403.5,369.2 L404.0,369.3 L404.5,369.4 L405.0,369.4 L405.5,369.5 L406.0,369.6 L406.5,369.7 L407.0,369.7 L407.5,369.8 L408.0,369.9 L408.5,370.0 L409.0,370.0 L409.5,370.1 L410.0,370.2 L410.5,370.2 L411.0,370.3 L411.5,370.4 L412.0,370.4 L412.5,370.5 L413.0,370.6 L413.5,370.6 L414.0,370.7 L414.5,370.8 L415.0,370.8 L415.5,370.9 L416.0,370.9 L416.5,371.0 L417.0,371.0 L417.5,371.1 L418.0,371.2 L418.5,371.2 L419.0,371.3 L419.5,371.3 L420.0,371.4 L420.5,371.4 L421.0,371.5 L421.5,371.5 L422.0,371.6 L422.5,371.6 L423.0,371.7 L423.5,371.7 L424.0,371.8 L424.5,371.8 L425.0,371.9 L425.5,371.9 L426.0,372.0 L426.5,372.0 L427.0,372.0 L427.5,372.1 L428.0,372.1 L428.5,372.2 L429.0,372.2 L429.5,372.3 L430.0,372.3 L430.5,372.3 L431.0,372.4 L431.5,372.4 L432.0,372.5 L432.5,372.5 L433.0,372.5 L433.5,372.6 L434.0,372.6 L434.5,372.6 L435.0,372.7 L435.5,372.7 L436.0,372.7 L436.5,372.8 L437.0,372.8 L437.5,372.8 L438.0,372.9 L438.5,372.9 L439.0,372.9 L439.5,373.0 L440.0,373.0 L440.5,373.0 L441.0,373.1 L441.5,373.1 L442.0,373.1 L442.5,373.1 L443.0,373.2 L443.5,373.2 L444.0,373.2 L444.5,373.3 L445.0,373.3 L445.5,373.3 L446.0,373.3 L446.5,373.4 L447.0,373.4 L447.5,373.4 L448.0,373.4 L448.5,373.5 L449.0,373.5 L449.5,373.5 L450.0,373.5 L450.5,373.6 L451.0,373.6 L451.5,373.6 L452.0,373.6 L452.5,373.7 L453.0,373.7 L453.5,373.7 L454.0,373.7 L454.5,373.7 L455.0,373.8 L455.5,373.8 L456.0,373.8 L456.5,373.8 L457.0,373.8 L457.5,373.9 L458.0,373.9 L458.5,373.9 L459.0,373.9 L459.5,373.9 L460.0,374.0 L460.5,374.0 L461.0,374.0 L461.5,374.0 L462.0,374.0 L462.5,374.0 L463.0,374.1 L463.5,374.1 L464.0,374.1 L464.5,374.1 L465.0,374.1 L465.5,374.1 L466.0,374.2 L466.5,374.2 L467.0,374.2 L467.5,374.2 L468.0,374.2 L468.5,374.2 L469.0,374.2 L469.5,374.3 L470.0,374.3 L470.5,374.3 L471.0,374.3 L471.5,374.3 L472.0,374.3 L472.5,374.3 L473.0,374.4 L473.5,374.4 L474.0,374.4 L474.5,374.4 L475.0,374.4 L475.5,374.4 L476.0,374.4 L476.5,374.4 L477.0,374.5 L477.5,374.5 L478.0,374.5 L478.5,374.5 L479.0,374.5 L479.5,374.5 L480.0,374.5 L480.5,374.5 L481.0,374.6 L481.5,374.6 L482.0,374.6 L482.5,374.6 L483.0,374.6 L483.5,374.6 L484.0,374.6 L484.5,374.6 L485.0,374.6 L485.5,374.6 L486.0,374.7 L486.5,374.7 L487.0,374.7 L487.5,374.7 L488.0,374.7 L488.5,374.7 L489.0,374.7 L489.5,374.7 L490.0,374.7 L490.5,374.7 L491.0,374.7 L491.5,374.8 L492.0,374.8 L492.5,374.8 L493.0,374.8 L493.5,374.8 L494.0,374.8 L494.5,374.8 L495.0,374.8 L495.5,374.8 L496.0,374.8 L496.5,374.8 L497.0,374.8 L497.5,374.8 L498.0,374.9 L498.5,374.9 L499.0,374.9 L499.5,374.9 L500.0,374.9 L500.5,374.9 L501.0,374.9 L501.5,374.9 L502.0,374.9 L502.5,374.9 L503.0,374.9 L503.5,374.9 L504.0,374.9 L504.5,374.9 L505.0,374.9 L505.5,375.0 L506.0,375.0 L506.5,375.0 L507.0,375.0 L507.5,375.0 L508.0,375.0 L508.5,375.0 L509.0,375.0 L509.5,375.0 L510.0,375.0 L510.5,375.0 L511.0,375.0 L511.5,375.0 L512.0,375.0 L512.5,375.0 L513.0,375.0 L513.5,375.0 L514.0,375.0 L514.5,375.1 L515.0,375.1 L515.5,375.1 L516.0,375.1 L516.5,375.1 L517.0,375.1 L517.5,375.1 L518.0,375.1 L518.5,375.1 L519.0,375.1 L519.5,375.1 L520.0,375.1 L520.5,375.1 L521.0,375.1 L521.5,375.1 L522.0,375.1 L522.5,375.1 L523.0,375.1 L523.5,375.1 L524.0,375.1 L524.5,375.1 L525.0,375.1 L525.5,375.1 L526.0,375.2 L526.5,375.2 L527.0,375.2 L527.5,375.2 L528.0,375.2 L528.5,375.2 L529.0,375.2 L529.5,375.2 L530.0,375.2 L530.5,375.2 L531.0,375.2 L531.5,375.2 L532.0,375.2 L532.5,375.2 L533.0,375.2 L533.5,375.2 L534.0,375.2 L534.5,375.2 L535.0,375.2 L535.5,375.2 L536.0,375.2 L536.5,375.2 L537.0,375.2 L537.5,375.2 L538.0,375.2 L538.5,375.2 L539.0,375.2 L539.5,375.2 L540.0,375.2 L540.5,375.3 L541.0,375.3 L541.5,375.3 L542.0,375.3 L542.5,375.3 L543.0,375.3 L543.5,375.3 L544.0,375.3" stroke="#00ff00" stroke-width="1.9"/>
</g>
<g stroke="#000" stroke-width="1.7">
<rect x="82.5" y="7.2" width="462.0" height="376.6" fill="none"/>
<line x1="75.5" y1="375.90" x2="82.5" y2="375.90"/><line x1="78.5" y1="359.87" x2="82.5" y2="359.87"/><line x1="75.5" y1="343.84" x2="82.5" y2="343.84"/><line x1="78.5" y1="327.81" x2="82.5" y2="327.81"/><line x1="75.5" y1="311.78" x2="82.5" y2="311.78"/><line x1="78.5" y1="295.75" x2="82.5" y2="295.75"/><line x1="75.5" y1="279.72" x2="82.5" y2="279.72"/><line x1="78.5" y1="263.69" x2="82.5" y2="263.69"/><line x1="75.5" y1="247.66" x2="82.5" y2="247.66"/><line x1="78.5" y1="231.63" x2="82.5" y2="231.63"/><line x1="75.5" y1="215.60" x2="82.5" y2="215.60"/><line x1="78.5" y1="199.57" x2="82.5" y2="199.57"/><line x1="75.5" y1="183.54" x2="82.5" y2="183.54"/><line x1="78.5" y1="167.51" x2="82.5" y2="167.51"/><line x1="75.5" y1="151.48" x2="82.5" y2="151.48"/><line x1="78.5" y1="135.45" x2="82.5" y2="135.45"/><line x1="75.5" y1="119.42" x2="82.5" y2="119.42"/><line x1="78.5" y1="103.39" x2="82.5" y2="103.39"/><line x1="75.5" y1="87.36" x2="82.5" y2="87.36"/><line x1="78.5" y1="71.33" x2="82.5" y2="71.33"/><line x1="75.5" y1="55.30" x2="82.5" y2="55.30"/><line x1="78.5" y1="39.27" x2="82.5" y2="39.27"/><line x1="75.5" y1="23.24" x2="82.5" y2="23.24"/><line x1="78.5" y1="7.21" x2="82.5" y2="7.21"/>
<line x1="82.52" y1="383.8" x2="82.52" y2="387.3"/><line x1="115.50" y1="383.8" x2="115.50" y2="390.8"/><line x1="148.48" y1="383.8" x2="148.48" y2="387.3"/><line x1="181.47" y1="383.8" x2="181.47" y2="390.8"/><line x1="214.45" y1="383.8" x2="214.45" y2="387.3"/><line x1="247.43" y1="383.8" x2="247.43" y2="390.8"/><line x1="280.41" y1="383.8" x2="280.41" y2="387.3"/><line x1="313.40" y1="383.8" x2="313.40" y2="390.8"/><line x1="346.38" y1="383.8" x2="346.38" y2="387.3"/><line x1="379.36" y1="383.8" x2="379.36" y2="390.8"/><line x1="412.34" y1="383.8" x2="412.34" y2="387.3"/><line x1="445.32" y1="383.8" x2="445.32" y2="390.8"/><line x1="478.31" y1="383.8" x2="478.31" y2="387.3"/><line x1="511.29" y1="383.8" x2="511.29" y2="390.8"/><line x1="544.27" y1="383.8" x2="544.27" y2="387.3"/>
</g>
<g font-size="17.8" fill="#000">
<text x="70.5" y="381.1" text-anchor="end">0</text><text x="70.5" y="349.0" text-anchor="end">1k</text><text x="70.5" y="317.0" text-anchor="end">2k</text><text x="70.5" y="284.9" text-anchor="end">3k</text><text x="70.5" y="252.9" text-anchor="end">4k</text><text x="70.5" y="220.8" text-anchor="end">5k</text><text x="70.5" y="188.7" text-anchor="end">6k</text><text x="70.5" y="156.7" text-anchor="end">7k</text><text x="70.5" y="124.6" text-anchor="end">8k</text><text x="70.5" y="92.6" text-anchor="end">9k</text><text x="70.5" y="60.5" text-anchor="end">10k</text><text x="70.5" y="28.4" text-anchor="end">11k</text>
<text x="115.5" y="410" text-anchor="middle">1.40</text><text x="181.5" y="410" text-anchor="middle">1.45</text><text x="247.4" y="410" text-anchor="middle">1.50</text><text x="313.4" y="410" text-anchor="middle">1.55</text><text x="379.4" y="410" text-anchor="middle">1.60</text><text x="445.3" y="410" text-anchor="middle">1.65</text><text x="511.3" y="410" text-anchor="middle">1.70</text>
</g>
<text x="19.9" y="187.9" font-size="22" text-anchor="middle" textLength="136.3" lengthAdjust="spacingAndGlyphs" transform="rotate(-90 19.9 187.9)">Intensity (a.u.)</text>
<text x="221.8" y="442.6" font-size="22" textLength="181.3" lengthAdjust="spacingAndGlyphs">Photon energy (eV)</text>
<text x="127.6" y="42.5" font-size="21.5" textLength="51.5" lengthAdjust="spacingAndGlyphs">CdTe</text>
<text x="115.8" y="67.6" font-size="15.8" textLength="82" lengthAdjust="spacingAndGlyphs">PL at 300 K</text>
<path d="M112.6,81.9 Q113.6,79.8 115.3,80.6 Q116.2,81.2 117,83.5 L119.6,91.3 Q120.3,93.2 122,92.6" fill="none" stroke="#000" stroke-width="1.55" stroke-linecap="round"/><path d="M116.6,86.2 L112.6,93.6" fill="none" stroke="#000" stroke-width="1.45" stroke-linecap="round"/>
<text x="122.3" y="101" font-size="11.8">exc</text>
<text x="140.6" y="94.5" font-size="15.6" textLength="65" lengthAdjust="spacingAndGlyphs">= 532 nm</text>
<text x="124.4" y="161.4" font-size="19">RMS</text>
<text x="103.2" y="180" font-size="19.25">value (nm)</text>
<g stroke-width="3.8" stroke-linecap="round">
<line x1="102.3" y1="200.5" x2="144.5" y2="200.5" stroke="#00ff00"/>
<line x1="102.3" y1="225.2" x2="144.5" y2="225.2" stroke="#0000ff"/>
<line x1="102.3" y1="248.7" x2="144.5" y2="248.7" stroke="#ff0000"/>
</g>
<g font-size="19.4">
<text x="153.8" y="206.8">307</text>
<text x="153.8" y="231.3">467</text>
<text x="153.8" y="255">602</text>
</g>
<text x="357" y="284.9" font-size="18.3" font-weight="bold" fill="#ff0000" textLength="52.5" lengthAdjust="spacingAndGlyphs">x 22.8</text>
<text x="399.6" y="354.1" font-size="18.3" font-weight="bold" fill="#0000ff" textLength="52.5" lengthAdjust="spacingAndGlyphs">x 1.67</text>
<!-- inset -->
<polyline points="334.8,164.2 443.4,134.5 535,24.9" fill="none" stroke="#b4b4b4" stroke-width="1"/>
<g stroke="#555" stroke-width="1.2">
<rect x="330.2" y="10.6" width="210.8" height="168.7" fill="none"/>
<line x1="326.2" y1="179.30" x2="330.2" y2="179.30"/><line x1="328.2" y1="168.08" x2="330.2" y2="168.08"/><line x1="326.2" y1="156.85" x2="330.2" y2="156.85"/><line x1="328.2" y1="145.62" x2="330.2" y2="145.62"/><line x1="326.2" y1="134.40" x2="330.2" y2="134.40"/><line x1="328.2" y1="123.18" x2="330.2" y2="123.18"/><line x1="326.2" y1="111.95" x2="330.2" y2="111.95"/><line x1="328.2" y1="100.73" x2="330.2" y2="100.73"/><line x1="326.2" y1="89.50" x2="330.2" y2="89.50"/><line x1="328.2" y1="78.28" x2="330.2" y2="78.28"/><line x1="326.2" y1="67.05" x2="330.2" y2="67.05"/><line x1="328.2" y1="55.83" x2="330.2" y2="55.83"/><line x1="326.2" y1="44.60" x2="330.2" y2="44.60"/><line x1="328.2" y1="33.38" x2="330.2" y2="33.38"/><line x1="326.2" y1="22.15" x2="330.2" y2="22.15"/><line x1="330.20" y1="179.3" x2="330.20" y2="183.3"/><line x1="347.19" y1="179.3" x2="347.19" y2="181.3"/><line x1="364.17" y1="179.3" x2="364.17" y2="183.3"/><line x1="381.15" y1="179.3" x2="381.15" y2="181.3"/><line x1="398.14" y1="179.3" x2="398.14" y2="183.3"/><line x1="415.12" y1="179.3" x2="415.12" y2="181.3"/><line x1="432.11" y1="179.3" x2="432.11" y2="183.3"/><line x1="449.09" y1="179.3" x2="449.09" y2="181.3"/><line x1="466.08" y1="179.3" x2="466.08" y2="183.3"/><line x1="483.06" y1="179.3" x2="483.06" y2="181.3"/><line x1="500.05" y1="179.3" x2="500.05" y2="183.3"/><line x1="517.03" y1="179.3" x2="517.03" y2="181.3"/><line x1="534.02" y1="179.3" x2="534.02" y2="183.3"/>
</g>
<g font-size="10" fill="#111">
<text x="324.2" y="182.7" text-anchor="end">35</text><text x="324.2" y="160.3" text-anchor="end">40</text><text x="324.2" y="137.8" text-anchor="end">45</text><text x="324.2" y="115.4" text-anchor="end">50</text><text x="324.2" y="92.9" text-anchor="end">55</text><text x="324.2" y="70.5" text-anchor="end">60</text><text x="324.2" y="48.0" text-anchor="end">65</text><text x="324.2" y="25.6" text-anchor="end">70</text><text x="330.2" y="194.2" text-anchor="middle">300</text><text x="364.2" y="194.2" text-anchor="middle">350</text><text x="398.1" y="194.2" text-anchor="middle">400</text><text x="432.1" y="194.2" text-anchor="middle">450</text><text x="466.1" y="194.2" text-anchor="middle">500</text><text x="500.0" y="194.2" text-anchor="middle">550</text><text x="534.0" y="194.2" text-anchor="middle">600</text>
</g>
<text x="305.2" y="89.6" font-size="11" text-anchor="middle" fill="#222" textLength="90.5" lengthAdjust="spacing" transform="rotate(-90 305.2 89.6)">PL FWHM (meV)</text>
<text x="350" y="208" font-size="12.8" fill="#222">RMS surface roughness (nm)</text>
<circle cx="334.8" cy="164.2" r="4.25" fill="#000"/>
<circle cx="443.4" cy="134.5" r="4.25" fill="#000"/>
<circle cx="535" cy="24.9" r="4.25" fill="#000"/>
</svg>
</body></html>
